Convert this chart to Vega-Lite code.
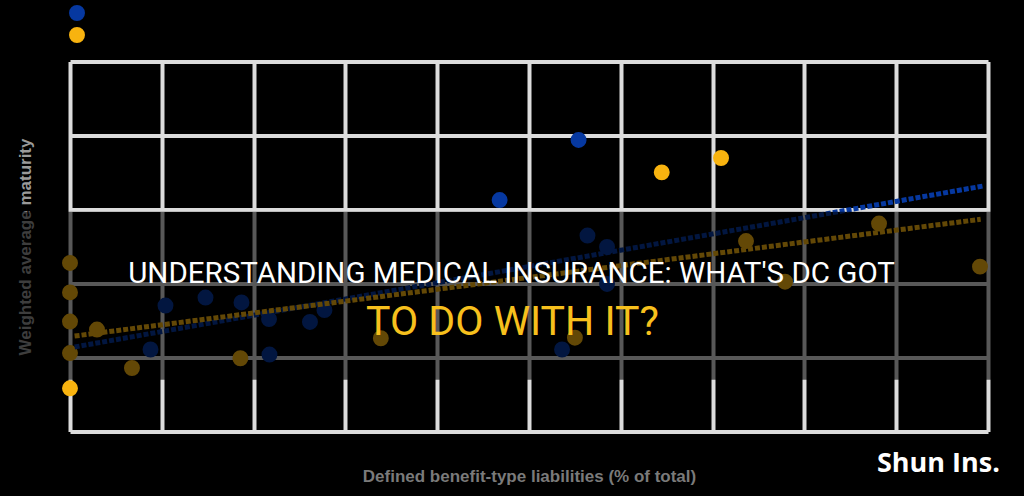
{
  "$schema": "https://vega.github.io/schema/vega-lite/v6.json",
  "width": 918,
  "height": 370,
  "autosize": "none",
  "padding": {"left": 70, "top": 61.5, "right": 36, "bottom": 64.5},
  "background": "#000000",
  "config": {
    "view": {"stroke": null},
    "axis": {"grid": true, "gridColor": "#dcdcdc", "gridWidth": 4, "gridOpacity": 1, "labels": false, "ticks": false, "domain": false}
  },
  "datasets": {
    "points": [
      {"series": "Pension funds", "dbshare": 55.4, "maturity": 19.7},
      {"series": "Pension funds", "dbshare": 46.8, "maturity": 15.64},
      {"series": "Pension funds", "dbshare": 10.4, "maturity": 8.51},
      {"series": "Pension funds", "dbshare": 14.76, "maturity": 9.05},
      {"series": "Pension funds", "dbshare": 18.68, "maturity": 8.72},
      {"series": "Pension funds", "dbshare": 8.77, "maturity": 5.54},
      {"series": "Pension funds", "dbshare": 21.68, "maturity": 7.6},
      {"series": "Pension funds", "dbshare": 21.73, "maturity": 5.2},
      {"series": "Pension funds", "dbshare": 26.14, "maturity": 7.4},
      {"series": "Pension funds", "dbshare": 27.72, "maturity": 8.2},
      {"series": "Pension funds", "dbshare": 56.37, "maturity": 13.24},
      {"series": "Pension funds", "dbshare": 58.5, "maturity": 12.47},
      {"series": "Pension funds", "dbshare": 58.5, "maturity": 9.97},
      {"series": "Pension funds", "dbshare": 53.6, "maturity": 5.54},
      {"series": "Insurers", "dbshare": 0, "maturity": 11.39},
      {"series": "Insurers", "dbshare": 0, "maturity": 9.4},
      {"series": "Insurers", "dbshare": 0, "maturity": 7.43},
      {"series": "Insurers", "dbshare": 0, "maturity": 5.3},
      {"series": "Insurers", "dbshare": 0, "maturity": 2.92},
      {"series": "Insurers", "dbshare": 2.94, "maturity": 6.89},
      {"series": "Insurers", "dbshare": 6.75, "maturity": 4.29},
      {"series": "Insurers", "dbshare": 18.56, "maturity": 4.95},
      {"series": "Insurers", "dbshare": 33.86, "maturity": 6.3},
      {"series": "Insurers", "dbshare": 55.0, "maturity": 6.34},
      {"series": "Insurers", "dbshare": 73.64, "maturity": 12.87},
      {"series": "Insurers", "dbshare": 88.13, "maturity": 14.05},
      {"series": "Insurers", "dbshare": 77.89, "maturity": 10.12},
      {"series": "Insurers", "dbshare": 99.13, "maturity": 11.14},
      {"series": "Insurers", "dbshare": 64.46, "maturity": 17.51},
      {"series": "Insurers", "dbshare": 70.92, "maturity": 18.48}
    ],
    "trend": [
      {"series": "Pension funds", "dbshare": 0.5, "maturity": 5.71},
      {"series": "Pension funds", "dbshare": 99.5, "maturity": 16.59},
      {"series": "Insurers", "dbshare": 0.5, "maturity": 6.45},
      {"series": "Insurers", "dbshare": 99.2, "maturity": 14.34}
    ],
    "one": [{}]
  },
  "layer": [
    {
      "data": {"name": "points"},
      "mark": {"type": "circle", "size": 254, "opacity": 1},
      "encoding": {
        "x": {"field": "dbshare", "type": "quantitative", "scale": {"domain": [0, 100], "nice": false, "zero": false}, "axis": {"values": [0, 10, 20, 30, 40, 50, 60, 70, 80, 90, 100], "title": "Defined benefit-type liabilities (% of total)", "titleFont": "Liberation Sans", "titleFontSize": 17, "titleFontWeight": "bold", "titleColor": "#7a7a7a", "titlePadding": 37}},
        "y": {"field": "maturity", "type": "quantitative", "scale": {"domain": [0, 25], "nice": false, "zero": false}, "axis": {"values": [0, 5, 10, 15, 20, 25], "title": "Weighted average maturity", "titleFont": "Liberation Sans", "titleFontSize": 17, "titleFontWeight": "bold", "titleColor": "#9a9a9a", "titlePadding": 36}},
        "color": {"field": "series", "type": "nominal", "scale": {"domain": ["Pension funds", "Insurers"], "range": ["#0638a0", "#f8b30f"]}, "legend": {"orient": "none", "legendX": -1, "legendY": -56.5, "title": null, "symbolSize": 254, "symbolType": "circle", "labelExpr": "''", "rowPadding": 6, "labelFontSize": 10, "symbolStrokeWidth": 0, "symbolOpacity": 1}}
      }
    },
    {
      "data": {"name": "trend"},
      "mark": {"type": "line", "strokeWidth": 5, "strokeDash": [5, 2]},
      "encoding": {
        "x": {"field": "dbshare", "type": "quantitative"},
        "y": {"field": "maturity", "type": "quantitative"},
        "color": {"field": "series", "type": "nominal", "legend": null}
      }
    },
    {
      "data": {"name": "one"},
      "mark": {"type": "rect", "color": "#000000", "opacity": 0.6},
      "encoding": {
        "x": {"datum": -8, "type": "quantitative"},
        "x2": {"datum": 112},
        "y": {"datum": 3.5, "type": "quantitative"},
        "y2": {"datum": 14.85}
      }
    },
    {
      "data": {"name": "one"},
      "mark": {"type": "text", "text": "UNDERSTANDING MEDICAL INSURANCE: WHAT'S DC GOT", "font": "Roboto", "fontSize": 29.5, "color": "#ffffff", "align": "center", "baseline": "alphabetic"},
      "encoding": {
        "x": {"datum": 48.1, "type": "quantitative"},
        "y": {"datum": 10.03, "type": "quantitative"}
      }
    },
    {
      "data": {"name": "one"},
      "mark": {"type": "text", "text": "TO DO WITH IT?", "font": "Roboto", "fontSize": 41, "color": "#f7c01d", "align": "center", "baseline": "alphabetic"},
      "encoding": {
        "x": {"datum": 48.2, "type": "quantitative"},
        "y": {"datum": 6.52, "type": "quantitative"}
      }
    },
    {
      "data": {"name": "one"},
      "mark": {"type": "text", "text": "Shun Ins.", "font": "Open Sans", "fontWeight": "bold", "fontSize": 27, "color": "#ffffff", "align": "right", "baseline": "alphabetic"},
      "encoding": {
        "x": {"datum": 101.3, "type": "quantitative"},
        "y": {"datum": -2.74, "type": "quantitative"}
      }
    }
  ]
}
